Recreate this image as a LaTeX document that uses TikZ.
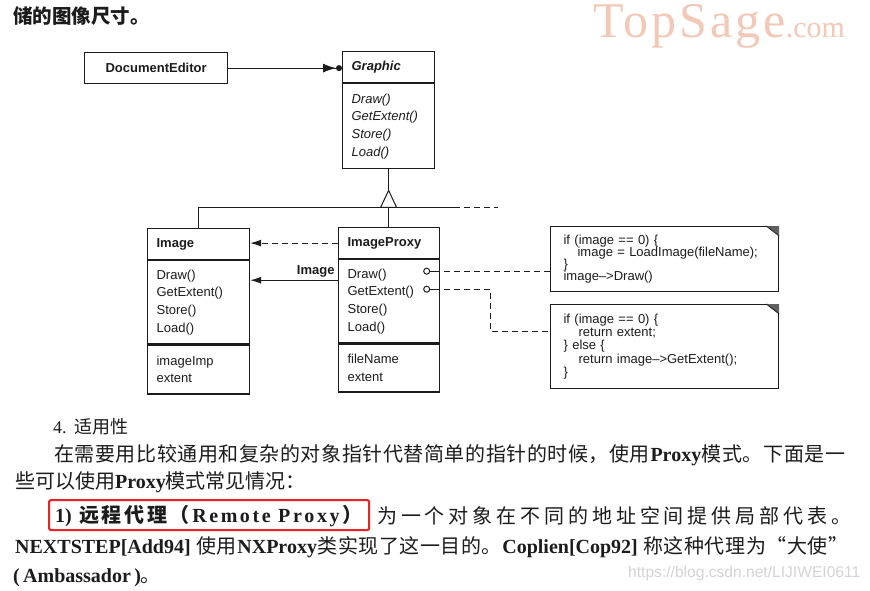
\documentclass[tikz,border=0pt]{standalone}
\usepackage{fontspec}
\setmainfont{Liberation Serif}
\setsansfont{Liberation Sans}
\newfontfamily\zhfont{Noto Sans CJK SC}
\newcommand\zhr[1]{{\zhfont\mdseries #1}}
\newcommand\zhb[1]{{\zhfont\bfseries #1}}
\newcommand\cjgap{\hskip 0pt plus 1fil\relax}
\makeatletter
\newcommand\spaced[1]{\spaced@a#1\relax}
\def\spaced@a#1{#1\spaced@b}
\def\spaced@b#1{\ifx\relax#1\else\cjgap#1\expandafter\spaced@b\fi}
\makeatother
\usetikzlibrary{arrows.meta,calc}
\definecolor{ink}{RGB}{28,28,28}
\definecolor{wm}{RGB}{242,200,183}
\definecolor{csdn}{RGB}{212,212,212}
\definecolor{redbox}{RGB}{232,36,36}
\begin{document}
\begin{tikzpicture}[x=1pt,y=-1pt,
  every node/.style={text=ink},
  cmp/.style={draw=ink, line width=1.2pt, anchor=north west, inner xsep=9pt, inner ysep=0pt, align=left, font=\sffamily\fontsize{13}{17.7}\selectfont},
  note/.style={draw=ink, line width=1.2pt, anchor=north west, inner xsep=13pt, inner ysep=0pt, align=left, text width=202pt, font=\sffamily\fontsize{13}{12.3}\selectfont},
  link/.style={draw=ink, line width=1pt},
  dsh/.style={link, dash pattern=on 6pt off 4pt},
  tipA/.style={-{Latex[length=11pt,width=7pt]}},
  port/.style={circle, draw=ink, line width=1pt, minimum size=6pt, inner sep=0pt},
  body/.style={anchor=west, inner sep=0pt, font=\bfseries\fontsize{20}{24}\selectfont},
]
\fill[white] (0,0) rectangle (870,591);
\useasboundingbox (0,0) rectangle (870,591);

% watermarks
\node[anchor=base west, inner sep=0pt, text height=34pt, text depth=10pt, text=wm, font=\mdseries\fontsize{50}{50}\selectfont\addfontfeature{LetterSpace=6}] (wm1) at (593,38) {TopSage};
\node[anchor=base west, inner sep=0pt, text=wm, font=\mdseries\fontsize{30}{30}\selectfont] (wm2) at (wm1.base east) {.com};
\node[anchor=west, inner sep=0pt, text=csdn, font=\sffamily\fontsize{15.6}{16}\selectfont] (wm3) at (628,573) {https://blog.csdn.net/LIJIWEI0611};

% top line
\node[anchor=west, inner sep=0pt, font=\fontsize{19.5}{22}\selectfont] (top) at (13,16.5) {\zhb{储的图像尺寸。}};

% classes
\node[cmp, align=center, text width=125pt, minimum height=31pt] (de) at (84,52) {\bfseries DocumentEditor};

\node[cmp, text width=74pt, minimum height=31pt] (gH) at (342,51) {\bfseries\itshape Graphic};
\node[cmp, text width=74pt, minimum height=85pt, font=\sffamily\itshape\fontsize{13}{17.7}\selectfont] (gM) at (gH.south west) {Draw()\\GetExtent()\\Store()\\Load()};

\node[cmp, text width=84pt, minimum height=31pt] (imgH) at (147,228) {\bfseries Image};
\node[cmp, text width=84pt, minimum height=83pt] (imgM) at (imgH.south west) {Draw()\\GetExtent()\\Store()\\Load()};
\node[cmp, text width=84pt, minimum height=49pt] (imgA) at (imgM.south west) {imageImp\\extent};

\node[cmp, text width=83pt, minimum height=31pt] (ipH) at (338,227) {\bfseries ImageProxy};
\node[cmp, text width=83pt, minimum height=83pt] (ipM) at (ipH.south west) {Draw()\\GetExtent()\\Store()\\Load()};
\node[cmp, text width=83pt, minimum height=48pt] (ipA) at (ipM.south west) {fileName\\extent};

% notes
\node[note, minimum height=65pt] (n1) at (550,226) {if (image == 0) \{\\\hspace*{14pt}image = LoadImage(fileName);\\\}\\image\textendash>Draw()};
\node[note, minimum height=84pt, font=\sffamily\fontsize{13}{13.3}\selectfont] (n2) at (550,304) {if (image == 0) \{\\\hspace*{15pt}return extent;\\\} else \{\\\hspace*{15pt}return image\textendash>GetExtent();\\\}};
\foreach \nn in {n1,n2} {
  \fill[ink!70] ($(\nn.north east)+(-13,0)$) -- (\nn.north east) -- ($(\nn.north east)+(0,10)$) -- cycle;
  \draw[ink, line width=0.8pt] ($(\nn.north east)+(-13,0)$) -- ($(\nn.north east)+(0,10)$);
}

% inheritance
\coordinate (apex) at ($(gM.south)+(0,21)$);
\coordinate (base) at ($(apex)+(0,17)$);
\draw[link] (gM.south) -- (apex);
\draw[link] (imgH.north) |- (base);
\draw[link] (base) -- (base |- ipH.north);
\draw[link] (base) -- ++(65,0) coordinate (hsolid);
\draw[dsh] (hsolid) -- ++(44,0);
\draw[link, fill=white] (apex) -- ++(-8,17) -- ++(16,0) -- cycle;

% associations
\draw[link, -{Latex[length=13pt,width=9pt]Circle[length=6pt]}] (de.east) -- (de.east -| gH.west);
\draw[dsh, tipA] (ipH.west) -- (ipH.west -| imgH.east);
\coordinate (ia) at ($(ipM.north west)+(0,21)$);
\draw[link, tipA] (ia) -- (ia -| imgM.east)
  node[pos=0, anchor=south east, inner xsep=3pt, inner ysep=2pt, font=\sffamily\bfseries\fontsize{13}{13}\selectfont] (lbl) {Image};

% ports to notes
\node[port] (c1) at ($(ipM.north east)+(-13.5,12)$) {};
\node[port] (c2) at ($(ipM.north east)+(-13.5,30)$) {};
\draw[link] (c1.east) -- ++(4,0) coordinate (c1e);
\draw[dsh] (c1e) -- (c1e -| n1.west);
\draw[link] (c2.east) -- ++(4,0) coordinate (c2e);
\draw[dsh] (c2e) -- ++(56,0) |- ($(n2.north west)+(0,27)$);

% body text
\node[anchor=west, inner sep=0pt, font=\mdseries\fontsize{18}{20}\selectfont] (h4) at (53,427) {4.\hspace{8pt}\zhr{适用性}};
\node[body] (l1) at (54,455) {\makebox[791pt][s]{\zhr{\spaced{在需要用比较通用和复杂的对象指针代替简单的指针的时候，使用}}\cjgap Proxy\cjgap\zhr{\spaced{模式。下面是一}}}};
\node[body] (l2) at (15,482) {\zhr{些可以使用}Proxy\zhr{模式常见情况：}};
\node[draw=redbox, line width=2.2pt, rounded corners=2pt, minimum width=320pt, minimum height=30pt, anchor=north west, inner sep=0pt] (rb) at (48,499) {};
\node[body] (l3a) at (55,516) {\makebox[307pt][s]{1)\ \cjgap\zhb{\spaced{远程代理（}}\cjgap\spaced{Remote}\ \cjgap\spaced{Proxy}\cjgap\zhb{）}}};
\node[body] (l3b) at (377,516) {\makebox[474pt][s]{\zhr{\spaced{为一个对象在不同的地址空间提供局部代表。}}}};
\node[body] (l4) at (15,547) {\makebox[833pt][s]{NEXTSTEP[Add94]\ \cjgap\zhr{\spaced{使用}}\cjgap NXProxy\cjgap\zhr{\spaced{类实现了这一目的。}}\cjgap Coplien[Cop92]\ \cjgap\zhr{\spaced{称这种代理为“大使”}}}};
\node[body] (l5) at (13,578) {(\,Ambassador\,)\zhr{。}};
\end{tikzpicture}
\end{document}
